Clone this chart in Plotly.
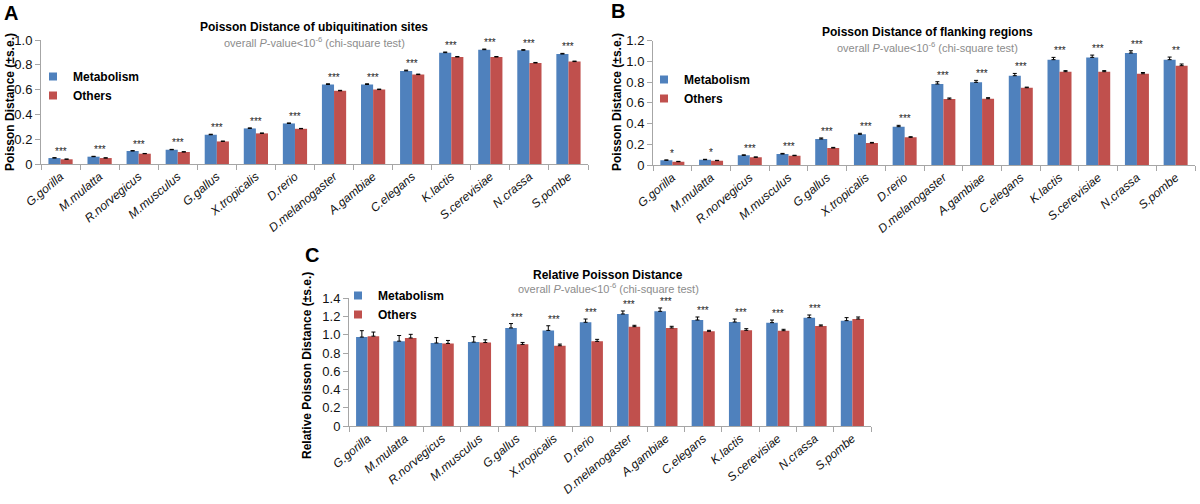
import plotly.graph_objects as go

W, H = 1200, 504
BLUE, RED = "#4F81BD", "#C0504D"
AXC = "#A6A6A6"
FONT = "Arial, Liberation Sans, sans-serif"

species = ["G.gorilla", "M.mulatta", "R.norvegicus", "M.musculus", "G.gallus",
           "X.tropicalis", "D.rerio", "D.melanogaster", "A.gambiae", "C.elegans",
           "K.lactis", "S.cerevisiae", "N.crassa", "S.pombe"]

# A: ubiquitination sites
a_met = [0.048, 0.059, 0.105, 0.115, 0.236, 0.287, 0.327, 0.641, 0.641, 0.751, 0.898, 0.922, 0.917, 0.887]
a_oth = [0.038, 0.048, 0.083, 0.097, 0.182, 0.247, 0.284, 0.590, 0.600, 0.721, 0.863, 0.863, 0.815, 0.826]
a_met_se = [0.003, 0.003, 0.003, 0.003, 0.004, 0.004, 0.004, 0.006, 0.006, 0.006, 0.005, 0.005, 0.005, 0.005]
a_oth_se = [0.002, 0.002, 0.002, 0.002, 0.003, 0.003, 0.003, 0.004, 0.004, 0.004, 0.004, 0.004, 0.004, 0.004]
a_sig = ["***"] * 14

# B: flanking regions
b_met = [0.045, 0.051, 0.093, 0.106, 0.251, 0.296, 0.370, 0.782, 0.798, 0.862, 1.017, 1.039, 1.081, 1.017]
b_oth = [0.032, 0.042, 0.074, 0.090, 0.164, 0.212, 0.267, 0.637, 0.640, 0.746, 0.901, 0.901, 0.881, 0.959]
b_met_se = [0.004, 0.004, 0.005, 0.006, 0.010, 0.010, 0.013, 0.022, 0.019, 0.022, 0.022, 0.022, 0.022, 0.025]
b_oth_se = [0.003, 0.003, 0.004, 0.004, 0.006, 0.006, 0.006, 0.010, 0.010, 0.006, 0.010, 0.010, 0.012, 0.016]
b_sig = ["*", "*", "***", "***", "***", "***", "***", "***", "***", "***", "***", "***", "***", "**"]

# C: relative poisson distance
c_met = [0.975, 0.930, 0.910, 0.920, 1.075, 1.048, 1.137, 1.228, 1.257, 1.162, 1.140, 1.133, 1.188, 1.155]
c_oth = [0.985, 0.965, 0.905, 0.915, 0.895, 0.880, 0.928, 1.089, 1.075, 1.038, 1.049, 1.045, 1.097, 1.173]
c_met_se = [0.070, 0.062, 0.059, 0.059, 0.048, 0.051, 0.036, 0.033, 0.037, 0.033, 0.033, 0.029, 0.029, 0.033]
c_oth_se = [0.045, 0.040, 0.033, 0.030, 0.021, 0.018, 0.022, 0.015, 0.018, 0.011, 0.018, 0.015, 0.011, 0.022]
c_sig = ["", "", "", "", "***", "***", "***", "***", "***", "***", "***", "***", "***", ""]

a_ticks = [0, 0.2, 0.4, 0.6, 0.8, 1.0]
a_ticktext = ["0", "0.2", "0.4", "0.6", "0.8", "1.0"]
b_ticks = [0, 0.2, 0.4, 0.6, 0.8, 1.0, 1.2]
b_ticktext = ["0", "0.2", "0.4", "0.6", "0.8", "1.0", "1.2"]
c_ticks = [0, 0.2, 0.4, 0.6, 0.8, 1.0, 1.2, 1.4]
c_ticktext = ["0", "0.2", "0.4", "0.6", "0.8", "1.0", "1.2", "1.4"]


def px_x(p):
    return p / W


def px_y(p):
    return 1 - p / H


panels = [
    # key, met, oth, met_se, oth_se, sig, ticks, ticktext, xdom px, ydom px, legend
    ("", a_met, a_oth, a_met_se, a_oth_se, a_sig, a_ticks, a_ticktext, (41, 588), (164, 40), "legend"),
    ("2", b_met, b_oth, b_met_se, b_oth_se, b_sig, b_ticks, b_ticktext, (653, 1195), (165, 40.7), "legend2"),
    ("3", c_met, c_oth, c_met_se, c_oth_se, c_sig, c_ticks, c_ticktext, (349, 871), (426, 298.3), "legend3"),
]

fig = go.Figure()
layout_axes = {}
annotations = []

for key, met, oth, met_se, oth_se, sig, ticks, ticktext, xd, yd, leg in panels:
    xa, ya = "x" + key, "y" + key
    fig.add_trace(go.Bar(
        x=species, y=met, name="Metabolism", marker_color=BLUE, marker_line_width=0,
        error_y=dict(type="data", array=met_se, arrayminus=[0] * len(met_se), symmetric=False,
                     color="black", thickness=1, width=2),
        xaxis=xa, yaxis=ya, showlegend=False, offsetgroup="m",
    ))
    fig.add_trace(go.Bar(
        x=species, y=oth, name="Others", marker_color=RED, marker_line_width=0,
        error_y=dict(type="data", array=oth_se, arrayminus=[0] * len(oth_se), symmetric=False,
                     color="black", thickness=1, width=2),
        xaxis=xa, yaxis=ya, showlegend=False, offsetgroup="o",
    ))
    # legend proxies (small squares like the Excel legend)
    for nm, col in [("Metabolism", BLUE), ("Others", RED)]:
        fig.add_trace(go.Scatter(
            x=[None], y=[None], mode="markers", name=nm, legend=leg,
            marker=dict(symbol="square", size=8, color=col),
            xaxis=xa, yaxis=ya,
        ))

    layout_axes["xaxis" + key] = dict(
        domain=[px_x(xd[0]), px_x(xd[1])], anchor=ya, type="category", automargin=False,
        range=[-0.5, len(species) - 0.5], tickson="boundaries",
        showline=True, linecolor=AXC, linewidth=1, ticks="outside", ticklen=5, tickcolor=AXC,
        tickangle=-40, tickfont=dict(size=12, color="#111", family=FONT, style="italic"),
        showgrid=False, zeroline=False, fixedrange=True,
    )
    layout_axes["yaxis" + key] = dict(
        domain=[px_y(yd[0]), px_y(yd[1])], anchor=xa, range=[0, ticks[-1]], automargin=False,
        tickvals=ticks, ticktext=ticktext,
        showline=True, linecolor=AXC, linewidth=1, ticks="outside", ticklen=5, tickcolor=AXC,
        tickfont=dict(size=13, color="#111", family=FONT),
        showgrid=False, zeroline=False, fixedrange=True,
    )

    for sp, s, m, om, o, oo in zip(species, sig, met, met_se, oth, oth_se):
        if s:
            annotations.append(dict(
                x=sp, y=max(m + om, o + oo), xref=xa, yref=ya, text=s, showarrow=False,
                yanchor="bottom", yshift=-1, font=dict(size=10, color="#222", family=FONT),
            ))

titles = [
    ("Poisson Distance of ubiquitination sites", 314, 27, 42),
    ("Poisson Distance of flanking regions", 927, 32, 47),
    ("Relative Poisson Distance", 608, 275, 288),
]
subtitle = "overall <i>P</i>-value&lt;10<sup>-6</sup> (chi-square test)"
for txt, cx, ty, sy in titles:
    annotations.append(dict(x=px_x(cx), y=px_y(ty), xref="paper", yref="paper", text="<b>%s</b>" % txt,
                            showarrow=False, xanchor="center", yanchor="middle",
                            font=dict(size=12, color="black", family=FONT)))
    annotations.append(dict(x=px_x(cx), y=px_y(sy), xref="paper", yref="paper", text=subtitle,
                            showarrow=False, xanchor="center", yanchor="middle",
                            font=dict(size=11, color="#8C8C8C", family=FONT)))

ytitles = [
    ("Poisson Distance (±s.e.)", 10, 102),
    ("Poisson Distance (±s.e.)", 617, 102),
    ("Relative Poisson Distance (±s.e.)", 307, 366),
]
for txt, cx, cy in ytitles:
    annotations.append(dict(x=px_x(cx), y=px_y(cy), xref="paper", yref="paper", text="<b>%s</b>" % txt,
                            showarrow=False, textangle=-90, xanchor="center", yanchor="middle",
                            font=dict(size=12, color="black", family=FONT)))

for lab, cx, cy in [("A", 11, 13), ("B", 618, 11), ("C", 312, 255)]:
    annotations.append(dict(x=px_x(cx), y=px_y(cy), xref="paper", yref="paper", text="<b>%s</b>" % lab,
                            showarrow=False, xanchor="center", yanchor="middle",
                            font=dict(size=20, color="black", family=FONT)))

legend_style = dict(xanchor="left", yanchor="top", bgcolor="rgba(0,0,0,0)", borderwidth=0,
                    font=dict(size=12, color="black", family=FONT, weight="bold"),
                    itemwidth=30, tracegroupgap=0)

fig.update_layout(
    width=W, height=H,
    margin=dict(l=0, r=0, t=0, b=0, autoexpand=False),
    paper_bgcolor="white", plot_bgcolor="white",
    font=dict(family=FONT, color="black"),
    barmode="group", bargap=0.38, bargroupgap=0,
    annotations=annotations,
    legend=dict(x=px_x(33), y=px_y(62), **legend_style),
    legend2=dict(x=px_x(644), y=px_y(65), **legend_style),
    legend3=dict(x=px_x(338), y=px_y(281), **legend_style),
    **layout_axes,
)

# drop the browser's default 8px body margin so the figure sits at the page corner
fig.write_html("out.html", config={"displayModeBar": False},
               post_script="document.body.style.margin='0';")
